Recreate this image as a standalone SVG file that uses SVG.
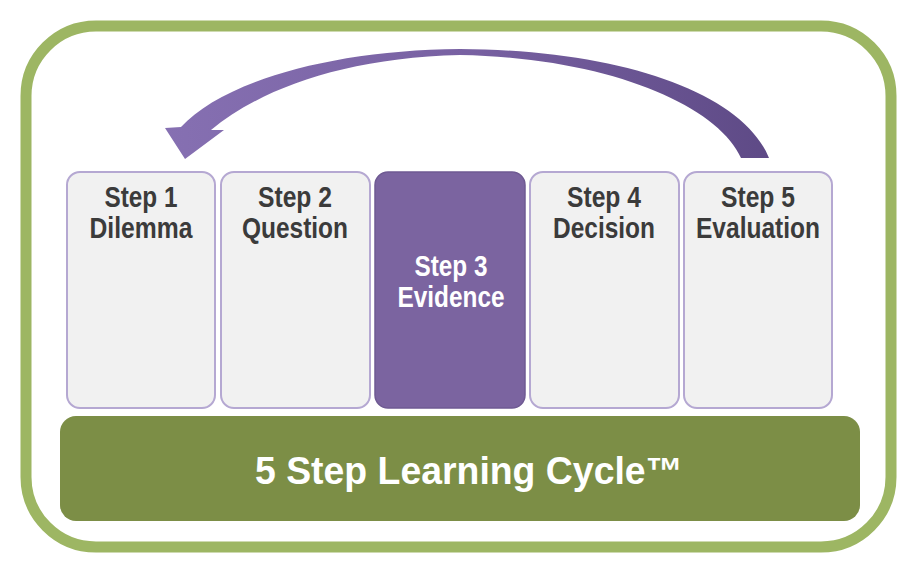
<svg xmlns="http://www.w3.org/2000/svg" width="918" height="576" viewBox="0 0 918 576">
  <defs>
    <linearGradient id="arcGrad" x1="0" y1="0" x2="1" y2="0">
      <stop offset="0" stop-color="#8670B2"/>
      <stop offset="0.5" stop-color="#7861A2"/>
      <stop offset="1" stop-color="#5E4A86"/>
    </linearGradient>
  </defs>
  <style>
    .step { fill: #F1F1F1; stroke: #B5A8D2; stroke-width: 2; }
    .step3 { fill: #7B64A0; stroke: #6F5A93; stroke-width: 1.5; }
    .lbl { font-family: "Liberation Sans Narrow", "Liberation Sans", Arial, sans-serif; font-weight: bold; font-size: 30px; fill: #3B3B3B; text-anchor: middle; }
    .lblw { fill: #FFFFFF; }
    .title { font-family: "Liberation Sans Narrow", "Liberation Sans", Arial, sans-serif; font-weight: bold; font-size: 38px; fill: #FFFFFF; text-anchor: middle; }
  </style>
  <rect width="918" height="576" fill="#FFFFFF"/>
  <g id="frame">
    <rect x="26" y="26" width="865" height="521" rx="70" ry="70" fill="#FFFFFF" stroke="#9DB663" stroke-width="11"/>
  </g>
  <g id="connectors">
    <path d="M 185 159 L 165 128 L 181 127 C 222 82 330 50 460 49 C 620 50 742 92 769 158 L 741 158 C 718 106 610 58 460 55 C 345 58 262 88 211 130 L 224 130 Z" fill="url(#arcGrad)"/>
  </g>
  <g id="step1">
    <rect class="step" x="67" y="172" width="148" height="236" rx="13"/>
    <text class="lbl" x="141" y="207" textLength="73" lengthAdjust="spacingAndGlyphs">Step 1</text>
    <text class="lbl" x="141" y="238" textLength="103" lengthAdjust="spacingAndGlyphs">Dilemma</text>
  </g>
  <g id="step2">
    <rect class="step" x="221" y="172" width="149" height="236" rx="13"/>
    <text class="lbl" x="295" y="207" textLength="74" lengthAdjust="spacingAndGlyphs">Step 2</text>
    <text class="lbl" x="295" y="238" textLength="106" lengthAdjust="spacingAndGlyphs">Question</text>
  </g>
  <g id="step3">
    <rect class="step3" x="375" y="172" width="150" height="236" rx="13"/>
    <text class="lbl lblw" x="451" y="276" textLength="73" lengthAdjust="spacingAndGlyphs">Step 3</text>
    <text class="lbl lblw" x="451" y="307" textLength="107" lengthAdjust="spacingAndGlyphs">Evidence</text>
  </g>
  <g id="step4">
    <rect class="step" x="530" y="172" width="149" height="236" rx="13"/>
    <text class="lbl" x="604" y="207" textLength="74" lengthAdjust="spacingAndGlyphs">Step 4</text>
    <text class="lbl" x="604" y="238" textLength="102" lengthAdjust="spacingAndGlyphs">Decision</text>
  </g>
  <g id="step5">
    <rect class="step" x="684" y="172" width="148" height="236" rx="13"/>
    <text class="lbl" x="758" y="207" textLength="74" lengthAdjust="spacingAndGlyphs">Step 5</text>
    <text class="lbl" x="758" y="238" textLength="124" lengthAdjust="spacingAndGlyphs">Evaluation</text>
  </g>
  <g id="banner">
    <rect x="60" y="416" width="800" height="105" rx="16" fill="#7C8E46"/>
    <text class="title" x="469" y="484" textLength="428" lengthAdjust="spacingAndGlyphs">5 Step Learning Cycle™</text>
  </g>
</svg>
